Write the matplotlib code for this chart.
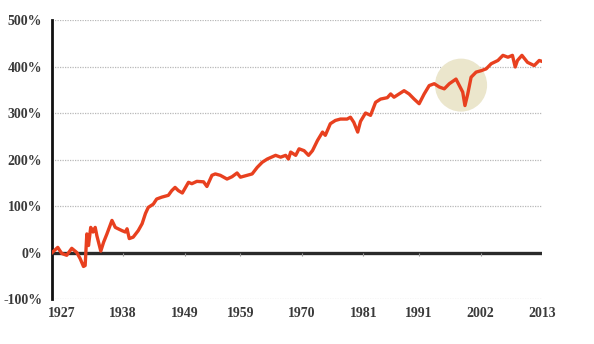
import matplotlib
matplotlib.use("Agg")
import matplotlib.pyplot as plt
from matplotlib.patches import Ellipse

# cumulative return, percent
years = [
    1925.3, 1926.3, 1927.0, 1927.9, 1928.8, 1929.7, 1930.3, 1930.9, 1931.2, 1931.5,
    1931.8, 1932.2, 1932.6, 1933.0, 1933.3, 1934.0, 1934.5, 1935.1, 1936.0, 1936.6,
    1937.8, 1938.4, 1938.7, 1939.1, 1939.8, 1940.7, 1941.4, 1942.0, 1942.5, 1943.4,
    1944.0, 1944.9, 1946.1, 1946.7, 1947.3, 1947.9, 1948.6, 1949.7, 1950.3, 1951.2,
    1952.4, 1953.0, 1953.9, 1954.5, 1955.4, 1956.6, 1957.5, 1958.4, 1959.0, 1960.2,
    1961.1, 1962.0, 1962.9, 1963.8, 1965.3, 1966.2, 1967.1, 1967.6, 1968.0, 1968.9,
    1969.5, 1970.4, 1971.2, 1971.9, 1972.8, 1973.7, 1974.2, 1975.1, 1976.0, 1976.9,
    1978.1, 1978.7, 1979.3, 1980.0, 1980.5, 1981.4, 1982.3, 1983.2, 1984.1, 1985.3,
    1985.9, 1986.5, 1987.4, 1988.3, 1989.2, 1990.1, 1991.0, 1991.9, 1992.8, 1993.7,
    1994.6, 1995.5, 1996.4, 1997.6, 1998.2, 1998.8, 1999.2, 1999.7, 2000.3, 2001.2,
    2002.1, 2003.0, 2003.9, 2005.1, 2006.0, 2006.9, 2007.7, 2008.2, 2008.6, 2009.4,
    2010.4, 2011.6, 2012.5, 2013.0,
]
returns = [
    0, 11, -2, -6, 9, 0, -13, -30, -28, 40,
    15, 54, 44, 54, 36, 3, 22, 40, 69, 54,
    47, 44, 51, 30, 33, 47, 62, 84, 97, 104,
    115, 119, 123, 133, 140, 133, 128, 151, 148, 153,
    152, 142, 166, 169, 166, 158, 163, 171, 162, 166,
    169, 183, 194, 201, 209, 205, 209, 201, 216, 209,
    223, 219, 209, 219, 241, 259, 252, 277, 284, 287,
    287, 291, 280, 259, 282, 300, 295, 323, 330, 333,
    341, 334, 341, 348, 341, 330, 320, 341, 359, 363,
    356, 352, 363, 373, 359, 345, 316, 341, 377, 388,
    391, 395, 406, 413, 424, 420, 424, 399, 413, 424,
    409, 402, 413, 411,
]

tick_years = [1927, 1938, 1949, 1959, 1970, 1981, 1991, 2002, 2013]
y_ticks = [-100, 0, 100, 200, 300, 400, 500]

fig = plt.figure(figsize=(5.94, 3.44), dpi=100)
ax = fig.add_axes([0.0875, 0.1308, 0.825, 0.811])

ax.set_xlim(1925.26, 2013.0)
ax.set_ylim(-100, 500)

# dotted gridlines
for v in y_ticks:
    if v != 0:
        ax.axhline(v, color="#b8b8b8", lw=0.9, ls=(0, (1, 1)), zorder=1)

# highlight around the 2000s dip
ax.add_patch(Ellipse((1998.5, 360), 9.33, 114, facecolor="#ebe6cc",
                     edgecolor="none", zorder=2))

ax.axhline(0, color="#2a2a2a", lw=2.4, zorder=3)
ax.vlines(tick_years[1:], -8, 0, color="#999999", lw=0.8, zorder=3)

ax.plot(years, returns, color="#e8401f", lw=2.4, zorder=4,
        solid_joinstyle="round")

for s in ["top", "right", "bottom"]:
    ax.spines[s].set_visible(False)
ax.spines["left"].set_linewidth(2)
ax.spines["left"].set_color("#111111")

font = dict(family="Liberation Serif", weight="bold", size=10, color="#3a3a3a")
ax.set_yticks(y_ticks)
ax.set_yticklabels([f"{v}%" for v in y_ticks], **font)
ax.set_xticks(tick_years)
ax.set_xticklabels([str(y) for y in tick_years], **font)
ax.tick_params(axis="both", length=0)
ax.tick_params(axis="y", pad=7)
ax.tick_params(axis="x", pad=6)

fig.savefig("out.png", dpi=100)
